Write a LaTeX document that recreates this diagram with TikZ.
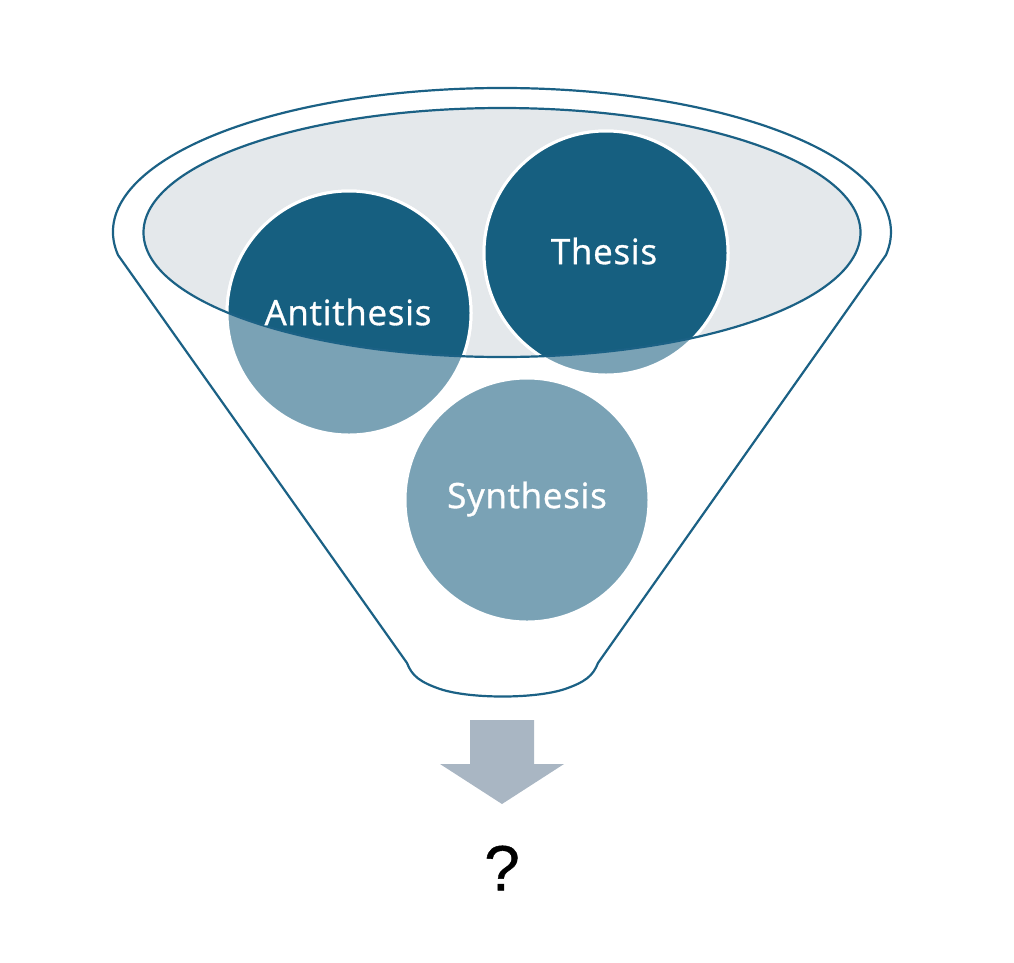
\documentclass[tikz,border=0pt]{standalone}
\usepackage{fontspec}
\setmainfont{Open Sans}
\newfontfamily\ballfont{Open Sans}[FakeBold=0.9,LetterSpace=2]
\newfontfamily\qfont{Liberation Sans}[FakeBold=0.6]
\definecolor{funnelline}{HTML}{1B6185}
\definecolor{bowlfill}{HTML}{E4E8EB}
\definecolor{darkball}{HTML}{165F80}
\definecolor{lightball}{HTML}{7AA2B5}
\definecolor{arrowgrey}{HTML}{A9B6C3}
\begin{document}
\begin{tikzpicture}[x=1pt,y=-1pt,
  outline/.style={draw=funnelline,line width=2.2pt},
  balltext/.style={text=white,font=\ballfont\fontsize{35}{40}\selectfont,inner sep=0pt},
  ballring/.style={draw=white,line width=3pt}]
\useasboundingbox (0,0) rectangle (1014,962);

% funnel body
\draw[outline,fill=white,line join=round]
  (407,663) -- (118,255)
  arc[start angle=170.8,end angle=369.2,x radius=389,y radius=144]
  -- (598,663)
  .. controls (593,676) and (585,682) .. (565,689)
  .. controls (535,699) and (470,699) .. (440,689)
  .. controls (420,682) and (412,676) .. (407,663) -- cycle;

% bowl surface
\fill[bowlfill] (502,232.5) ellipse[x radius=358.5,y radius=124.5];

% balls, pale where they sit below the surface
\foreach \cx/\cy in {349/313,606/253,527/500}
  \fill[lightball,ballring] (\cx,\cy) circle[radius=122];

% balls, dark where they sit inside the surface
\begin{scope}
  \clip (502,232.5) ellipse[x radius=358.5,y radius=124.5];
  \foreach \cx/\cy in {349/313,606/253}
    \fill[darkball,ballring] (\cx,\cy) circle[radius=122];
\end{scope}

% rim of the surface
\draw[outline] (502,232.5) ellipse[x radius=358.5,y radius=124.5];

% labels
\node[balltext] (thesis) at (604,251) {Thesis};
\node[balltext] (antithesis) at (348,312) {Antithesis};
\node[balltext] (synthesis) at (527,499) {Synthesis};

% outflow arrow
\fill[arrowgrey] (470,720) -- (534,720) -- (534,764) -- (564,764)
  -- (502,804) -- (440,764) -- (470,764) -- cycle;

\node[inner sep=0pt,font=\qfont\fontsize{64}{70}\selectfont] (result) at (502,868) {?};
\end{tikzpicture}
\end{document}
